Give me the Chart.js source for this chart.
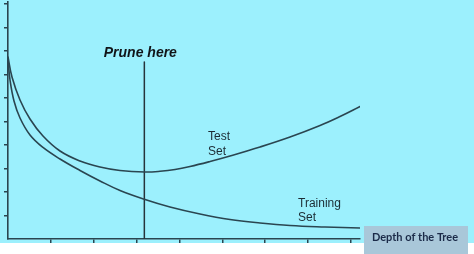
<!DOCTYPE html>
<html>
<head>
<meta charset="utf-8">
<script src="https://cdn.jsdelivr.net/npm/chart.js@4/dist/chart.umd.min.js"></script>
<style>
  html, body { margin: 0; padding: 0; background: #ffffff; }
  #wrap { position: relative; width: 474px; height: 254px; }
  canvas { display: block; }
</style>
</head>
<body>
<div id="wrap"><canvas id="c" width="474" height="254"></canvas></div>
<script>
// ---- data ----
const testDepth  = [0, 0.093, 0.28, 0.513, 0.816, 1.213, 1.68, 2.146, 2.613, 3.196, 3.546, 3.896, 4.245, 4.712, 5.178, 5.878, 6.578, 7.278, 7.744, 8.211];
const testError  = [7.745, 6.894, 5.915, 5.106, 4.383, 3.745, 3.319, 3.064, 2.915, 2.851, 2.881, 2.957, 3.085, 3.298, 3.532, 3.915, 4.34, 4.83, 5.213, 5.638];
const trainDepth = [0, 0.047, 0.14, 0.28, 0.513, 0.816, 1.213, 1.68, 2.146, 2.613, 3.196, 3.778, 4.478, 5.178, 5.878, 6.578, 7.394, 8.211];
const trainError = [7.617, 6.766, 5.872, 5.149, 4.426, 3.894, 3.404, 2.915, 2.468, 2.064, 1.681, 1.362, 1.064, 0.83, 0.681, 0.574, 0.511, 0.468];
const pruneDepth = 3.18;
const pruneTop = 7.53;
const xTicks = [1, 2, 3, 4, 5, 6, 7, 8];
const yTicks = [1, 2, 3, 4, 5, 6, 7, 8, 9, 10];
const labels = { prune: "Prune here", test: ["Test", "Set"], train: ["Training", "Set"], axis: "Depth of the Tree" };

const ink = '#2a4550';
const toPts = (xs, ys) => xs.map((x, i) => ({ x: x, y: ys[i] }));

const bgPlugin = {
  id: 'bg',
  beforeDraw(chart) {
    const ctx = chart.ctx;
    ctx.save();
    ctx.fillStyle = '#ffffff';
    ctx.fillRect(0, 0, chart.width, chart.height);
    ctx.fillStyle = '#9cf0fd';
    ctx.fillRect(0, 0, chart.width, 243);
    ctx.restore();
  }
};

const textPlugin = {
  id: 'texts',
  afterDraw(chart) {
    const ctx = chart.ctx;
    const xs = chart.scales.x;
    ctx.save();
    // Prune here
    ctx.fillStyle = '#111418';
    ctx.font = 'italic bold 14px "Liberation Sans", Arial, sans-serif';
    ctx.textAlign = 'center';
    ctx.textBaseline = 'alphabetic';
    ctx.fillText(labels.prune, xs.getPixelForValue(pruneDepth) - 4, 57);
    // Test Set
    ctx.fillStyle = '#1c2c34';
    ctx.font = '12px "Liberation Sans", Arial, sans-serif';
    ctx.textAlign = 'left';
    ctx.fillText(labels.test[0], 208, 140);
    ctx.fillText(labels.test[1], 208, 155);
    // Training Set
    ctx.fillText(labels.train[0], 298, 207);
    ctx.fillText(labels.train[1], 298, 221);
    // axis label box
    ctx.fillStyle = '#a9c7d9';
    ctx.fillRect(364, 226, 104, 28);
    ctx.fillStyle = '#1b2a48';
    ctx.font = 'bold 11px Lato, "Open Sans", sans-serif';
    ctx.textAlign = 'center';
    ctx.fillText(labels.axis, 415, 241);
    ctx.restore();
  }
};

new Chart(document.getElementById('c'), {
  type: 'line',
  data: {
    datasets: [
      { label: 'Test Set', data: toPts(testDepth, testError), borderColor: ink, borderWidth: 1.6,
        pointRadius: 0, fill: false, tension: 0.4 },
      { label: 'Training Set', data: toPts(trainDepth, trainError), borderColor: ink, borderWidth: 1.6,
        pointRadius: 0, fill: false, tension: 0.4 },
      { label: 'Prune', data: [{ x: pruneDepth, y: 0 }, { x: pruneDepth, y: pruneTop }], borderColor: '#26343a',
        borderWidth: 1.5, pointRadius: 0, fill: false, tension: 0 }
    ]
  },
  options: {
    responsive: false,
    animation: false,
    devicePixelRatio: 1,
    layout: { padding: { top: 2, right: 114, left: 0, bottom: 0 } },
    plugins: { legend: { display: false }, tooltip: { enabled: false } },
    elements: { line: { borderCapStyle: 'round' } },
    scales: {
      x: {
        type: 'linear', min: 0, max: 8.21,
        afterFit(s) { s.height = 15; },
        afterBuildTicks(s) { s.ticks = xTicks.map(v => ({ value: v })); },
        ticks: { display: false },
        grid: { drawOnChartArea: false, drawTicks: true, tickLength: 4, color: ink, lineWidth: 1.5 },
        border: { display: true, color: ink, width: 1.6 }
      },
      y: {
        type: 'linear', min: 0, max: 10.085,
        afterFit(s) { s.width = 8; },
        afterBuildTicks(s) { s.ticks = yTicks.map(v => ({ value: v })); },
        ticks: { display: false },
        grid: { drawOnChartArea: false, drawTicks: true, tickLength: 4, color: ink, lineWidth: 1.5 },
        border: { display: true, color: ink, width: 1.6 }
      }
    }
  },
  plugins: [bgPlugin, textPlugin]
});
</script>
</body>
</html>
